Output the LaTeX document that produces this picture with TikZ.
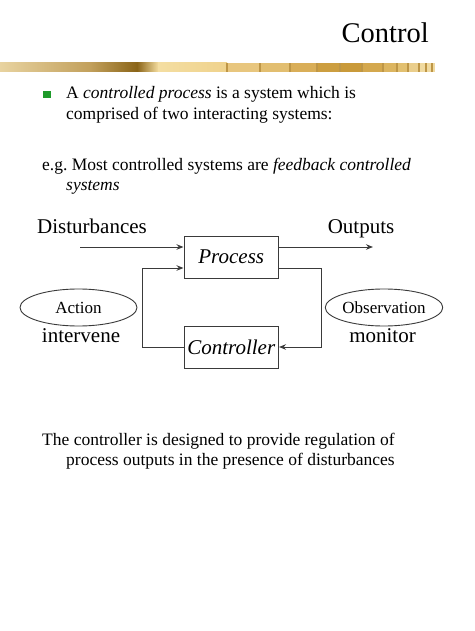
\documentclass[tikz,border=0pt]{standalone}
\usepackage{fontspec}
\setmainfont{Liberation Serif}
\usetikzlibrary{arrows.meta,shapes.geometric}
\definecolor{linegray}{HTML}{3A3A3A}
\definecolor{bulletgreen}{HTML}{1E9A2A}
\definecolor{goldA}{HTML}{E8D3A0}
\definecolor{goldB}{HTML}{C2A05C}
\definecolor{goldC}{HTML}{8A6418}
\definecolor{goldD}{HTML}{F2DA9C}
\definecolor{goldE}{HTML}{F4DEA2}
\definecolor{goldF}{HTML}{EFD28C}
\begin{document}
\begin{tikzpicture}[x=1pt,y=-1pt,
  box/.style={draw=linegray, line width=1pt, minimum width=94.5pt, minimum height=42pt, inner sep=0pt, font=\fontsize{21}{24}\selectfont\itshape},
  oval/.style={ellipse, draw=linegray, line width=0.9pt, minimum width=117pt, minimum height=37pt, inner sep=0pt, font=\fontsize{17}{20}\selectfont},
  lbl/.style={anchor=base, inner sep=0pt, font=\fontsize{21}{24}\selectfont},
  body/.style={anchor=base west, inner sep=0pt, font=\fontsize{17.5}{20.5}\selectfont},
  arr/.style={draw=linegray, line width=1pt, -{Stealth[length=7pt,width=5.5pt]}},
  ln/.style={draw=linegray, line width=1pt}]
\useasboundingbox (0,0) rectangle (474,631);
\fill[white] (0,0) rectangle (474,631);
% title
\node[anchor=base east, inner sep=0pt, font=\fontsize{28.5}{32}\selectfont] (title) at (429,43) {Control};
% decorative bar
\shade[left color=goldA, right color=goldB] (0,63) rectangle (90,72);
\shade[left color=goldB, right color=goldC] (90,63) rectangle (137,72);
\shade[left color=goldC, right color=goldD] (137,63) rectangle (158,72);
\shade[left color=goldE, right color=goldF] (158,63) rectangle (227,72);
\fill[color={rgb,255:red,232;green,198;blue,126}] (227,63) rectangle (260,72);
\fill[color={rgb,255:red,226;green,190;blue,112}] (260,63) rectangle (290,72);
\fill[color={rgb,255:red,217;green,174;blue,88}] (290,63) rectangle (317,72);
\fill[color={rgb,255:red,204;green,158;blue,64}] (317,63) rectangle (340,72);
\fill[color={rgb,255:red,201;green,154;blue,58}] (340,63) rectangle (362,72);
\fill[color={rgb,255:red,212;green,168;blue,78}] (362,63) rectangle (383,72);
\fill[color={rgb,255:red,220;green,181;blue,96}] (383,63) rectangle (397,72);
\fill[color={rgb,255:red,226;green,192;blue,112}] (397,63) rectangle (408,72);
\fill[color={rgb,255:red,234;green,206;blue,140}] (408,63) rectangle (420,72);
\fill[color={rgb,255:red,240;green,218;blue,160}] (420,63) rectangle (435,72);
\foreach \sx in {227,260,290,317,340,362,383,397,408,419,426,432}
  \fill[color={rgb,255:red,190;green,150;blue,70}] (\sx-0.6,63) rectangle (\sx+0.8,72);
% bullet text
\fill[bulletgreen] (42.5,91) rectangle (50.5,98.5);
\node[body] (l1) at (66,99) {A \textit{controlled process} is a system which is};
\node[body] (l2) at (66,119.5) {comprised of two interacting systems:};
\node[body] (l3) at (42,170.5) {e.g.\ Most controlled systems are \textit{feedback controlled}};
\node[body] (l4) at (66,190.5) {\textit{systems}};
% diagram
\node[box] (proc) at (231.25,257) {Process};
\node[box] (ctrl) at (231.25,347) {Controller};
\node[lbl] (dist) at (92,233) {Disturbances};
\node[lbl] (outs) at (361,233) {Outputs};
\node[oval] (act) at (78.5,307.5) {Action};
\node[oval] (obs) at (384,307.5) {Observation};
\node[lbl] (intv) at (81,342) {intervene};
\node[lbl] (mon) at (382.5,342) {monitor};
\coordinate (din) at (80,247);
\coordinate (dout) at (373,247);
\coordinate (fbR) at (321.5,268);
\coordinate (fbL) at (142,268);
\draw[arr] (din) -- (din -| proc.west);
\draw[arr] (proc.east |- dout) -- (dout);
\draw[arr] (proc.east |- fbR) -- (fbR) |- (ctrl.east);
\draw[arr] (ctrl.west) -| (fbL) -- (proc.west |- fbL);
% closing text
\node[body] (b1) at (42,445) {The controller is designed to provide regulation of};
\node[body] (b2) at (66,465) {process outputs in the presence of disturbances};
\end{tikzpicture}
\end{document}
